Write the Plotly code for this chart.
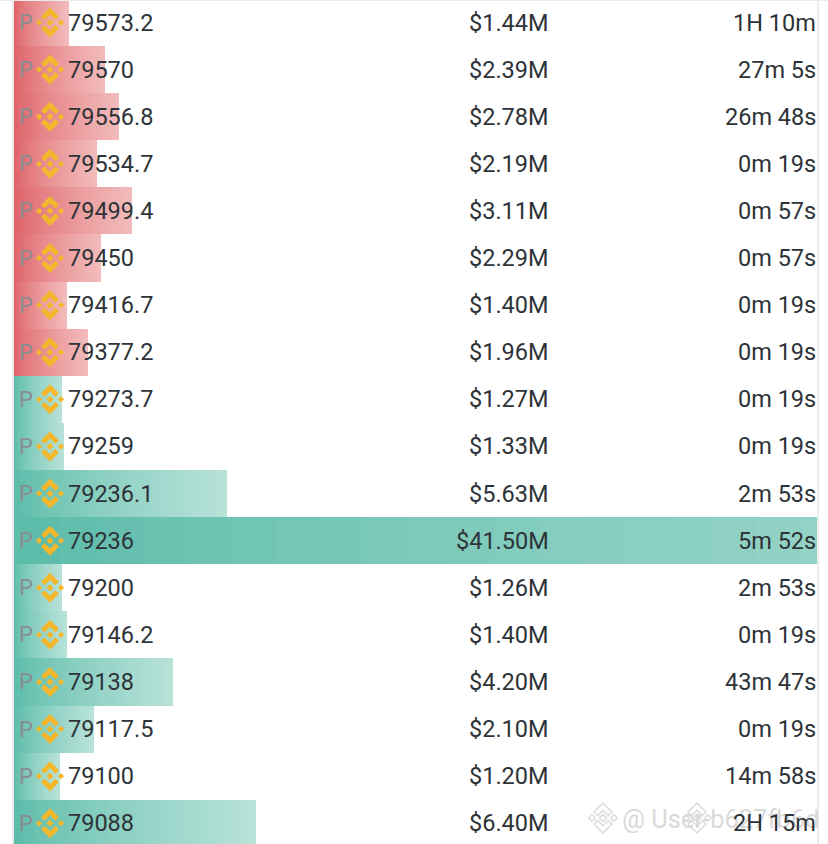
import plotly.graph_objects as go

W, H = 828, 844

prices = ["79573.2", "79570", "79556.8", "79534.7", "79499.4", "79450", "79416.7", "79377.2",
          "79273.7", "79259", "79236.1", "79236", "79200", "79146.2", "79138", "79117.5", "79100", "79088"]
notional_m = [1.44, 2.39, 2.78, 2.19, 3.11, 2.29, 1.40, 1.96,
              1.27, 1.33, 5.63, 41.50, 1.26, 1.40, 4.20, 2.10, 1.20, 6.40]
ages = ["1H 10m", "27m 5s", "26m 48s", "0m 19s", "0m 57s", "0m 57s", "0m 19s", "0m 19s",
        "0m 19s", "0m 19s", "2m 53s", "5m 52s", "2m 53s", "0m 19s", "43m 47s", "0m 19s", "14m 58s", "2H 15m"]
sides = ["sell"] * 8 + ["buy"] * 10

SEGS = 36
RAMP = {"sell": ((222, 96, 102), (242, 188, 188)),
        "buy": ((90, 187, 168), (184, 226, 217))}
TEXT = "#2e3338"
LOGO = "#f3b72e"

# binance diamond logo, pixels around the centre
LOGO_PATH = ("M0,-15 L9,-6 L5.4,-2.4 L0,-7.8 L-5.4,-2.4 L-9,-6 Z "
             "M0,15 L9,6 L5.4,2.4 L0,7.8 L-5.4,2.4 L-9,6 Z "
             "M0,-3.6 L3.6,0 L0,3.6 L-3.6,0 Z "
             "M-11,-3.2 L-7.8,0 L-11,3.2 L-14.2,0 Z "
             "M11,-3.2 L14.2,0 L11,3.2 L7.8,0 Z")


def shade(side, t):
    a, b = RAMP[side]
    t = t ** 0.75
    return "rgb(%d,%d,%d)" % tuple(round(a[k] + (b[k] - a[k]) * t) for k in range(3))


rows = list(range(len(prices)))
fig = go.Figure()

# === bars, stacked slices so each one fades to the right
for s in range(SEGS):
    fig.add_trace(go.Bar(
        y=rows,
        x=[v / SEGS for v in notional_m],
        orientation='h',
        width=1,
        marker=dict(color=[shade(side, (s + 0.5) / SEGS) for side in sides], line=dict(width=0)),
        showlegend=False,
        hoverinfo='skip'
    ))


def label(text, px, row, anchor, size=23.5, color=TEXT):
    fig.add_annotation(x=px / W, xref='paper', y=row, yref='y', text=text, showarrow=False,
                       xanchor=anchor, yanchor='middle', borderpad=0,
                       font=dict(family="Roboto", size=size, color=color))


# === watermark goes under the row text
for cx in [603, 697]:
    fig.add_shape(type='path', path=LOGO_PATH, xref='paper', yref='paper', xsizemode='pixel', ysizemode='pixel',
                  xanchor=cx / W, yanchor=1 - 818 / H,
                  fillcolor='white', line=dict(color='#dcdcdc', width=1.5))
fig.add_annotation(x=620 / W, xref='paper', y=1 - 819 / H, yref='paper', text="@ User-b627fb6d", showarrow=False,
                   xanchor='left', yanchor='middle', font=dict(family="Roboto", size=25.5, color='#d9d9d9'))

for i in rows:
    label("P", 18, i, 'left', size=22, color='#8a8d91')
    fig.add_shape(type='path', path=LOGO_PATH, xref='paper', yref='y', xsizemode='pixel', ysizemode='pixel',
                  xanchor=50 / W, yanchor=i, fillcolor=LOGO, line=dict(width=0))
    label(prices[i], 66.5, i, 'left')
    label("$%.2fM" % notional_m[i], 550, i, 'right')
    label(ages[i], 817, i, 'right')

# === edge lines of the table
for x0, x1, y0, y1 in [(12, 14, 0, H), (817, 819, 0, H), (0, W, 0, 1)]:
    fig.add_shape(type='rect', xref='paper', yref='paper', x0=x0 / W, x1=x1 / W, y0=1 - y0 / H, y1=1 - y1 / H,
                  fillcolor='#ebebeb', line=dict(width=0))

fig.update_xaxes(domain=[14 / W, 817 / W], range=[0, 21.2], visible=False, fixedrange=True)
fig.update_yaxes(range=[17.44, -0.478], visible=False, fixedrange=True)
fig.update_layout(
    width=W,
    height=H,
    barmode='stack',
    bargap=0,
    margin=dict(l=0, r=0, t=0, b=0),
    paper_bgcolor='white',
    plot_bgcolor='white',
    showlegend=False
)

fig.write_html("out.html", config={"displayModeBar": False},
               post_script="document.body.style.margin='0';document.documentElement.style.overflow='hidden';")
